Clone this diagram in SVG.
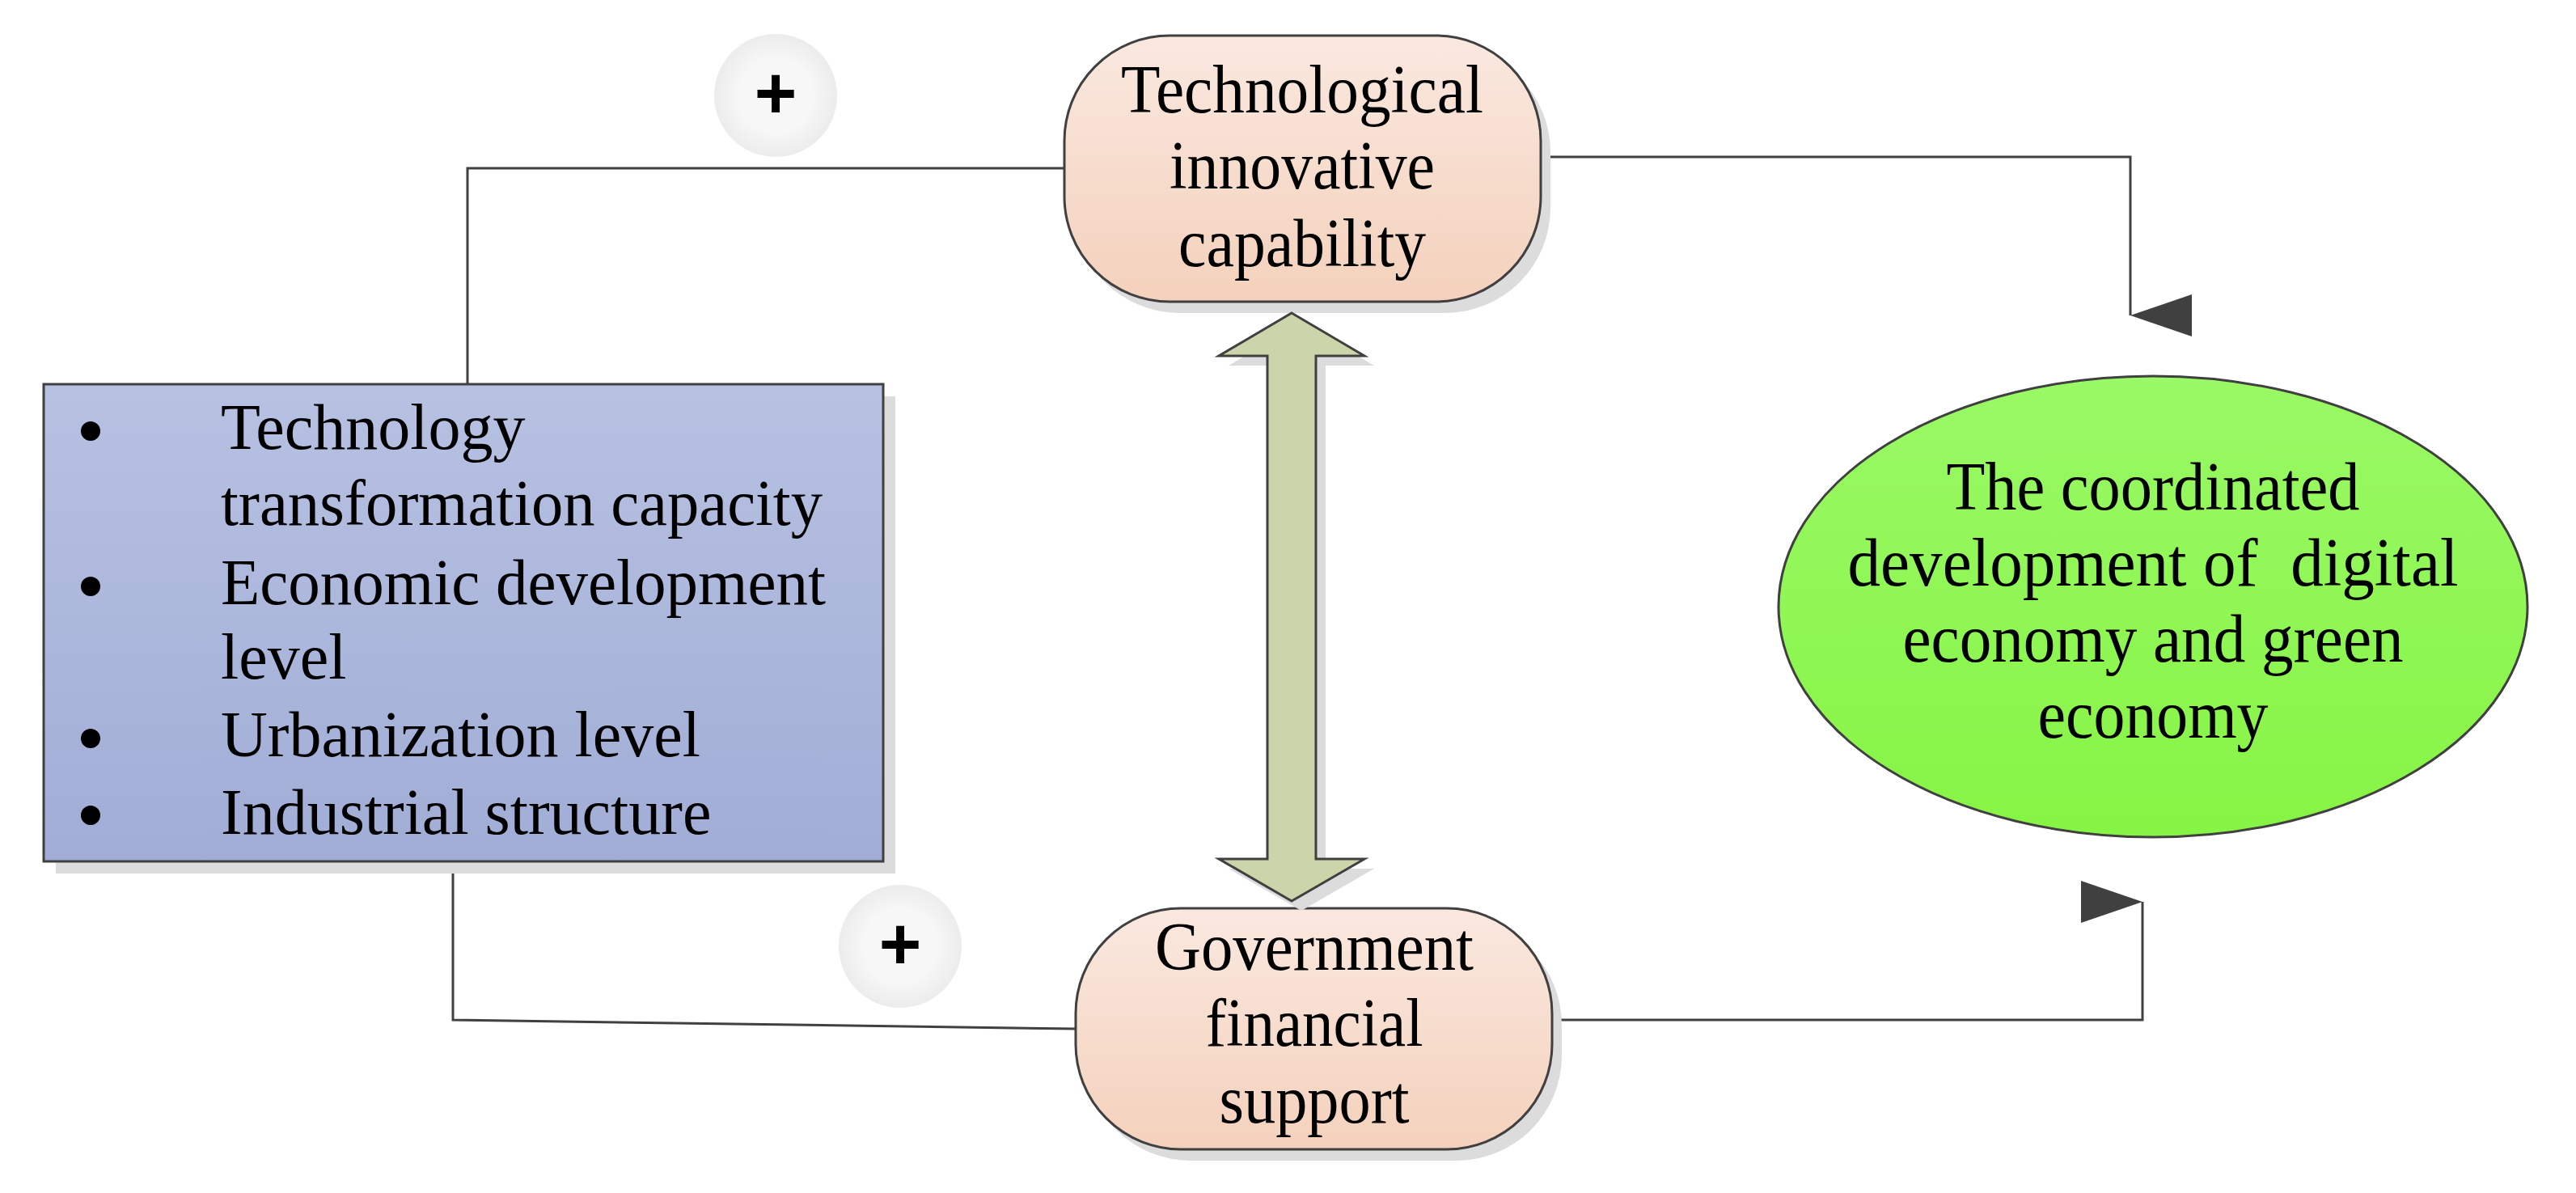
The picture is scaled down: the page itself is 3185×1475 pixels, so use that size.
<svg xmlns="http://www.w3.org/2000/svg" width="3185" height="1475" viewBox="0 0 3185 1475">
<defs>
<linearGradient id="gBox" x1="0" y1="0" x2="0" y2="1"><stop offset="0" stop-color="#b7c1e2"/><stop offset="1" stop-color="#a1add6"/></linearGradient>
<linearGradient id="gNode" x1="0" y1="0" x2="0" y2="1"><stop offset="0" stop-color="#fae8df"/><stop offset="1" stop-color="#f4d1bc"/></linearGradient>
<linearGradient id="gEll" x1="0" y1="0" x2="0" y2="1"><stop offset="0" stop-color="#9af966"/><stop offset="1" stop-color="#86f444"/></linearGradient>
<radialGradient id="gPlus"><stop offset="0.6" stop-color="#f7f7f7"/><stop offset="1" stop-color="#ececec"/></radialGradient>
<marker id="ah" markerWidth="52" markerHeight="76" refX="26" refY="76" orient="auto-start-reverse" markerUnits="userSpaceOnUse" viewBox="0 0 52 76"><path d="M0,0 L26,76 L52,0 Z" fill="#404040"/></marker>
</defs>
<style>
.t{font-family:"Liberation Serif","Times New Roman",serif;fill:#000}
.ln{fill:none;stroke:#404040;stroke-width:3}
.sh{fill:#dcdcdc}
.st{stroke:#404040;stroke-width:3}
</style>
<g id="connectors">
<polyline class="ln" points="578,475 578,208 1316,208"/>
<polyline class="ln" points="560,1065 560,1261 1329,1272"/>
<polyline class="ln" points="1905,194 2634,194 2634,390" marker-end="url(#ah)"/>
<polyline class="ln" points="1919,1261 2649,1261 2649,1115" marker-end="url(#ah)"/>
</g>
<g id="plus1"><circle cx="959" cy="118" r="76" fill="url(#gPlus)"/><text x="959" y="146" text-anchor="middle" font-family="Liberation Sans,Arial,sans-serif" font-size="90" font-weight="bold">+</text></g>
<g id="plus2"><circle cx="1113" cy="1170" r="76" fill="url(#gPlus)"/><text x="1113" y="1198" text-anchor="middle" font-family="Liberation Sans,Arial,sans-serif" font-size="90" font-weight="bold">+</text></g>
<g id="factors">
<rect class="sh" x="69" y="490" width="1038" height="590"/>
<rect x="54" y="475" width="1038" height="590" fill="url(#gBox)" class="st"/>
<g class="t" font-size="80">
<circle cx="112" cy="533" r="12"/><circle cx="112" cy="725" r="12"/><circle cx="112" cy="913" r="12"/><circle cx="112" cy="1008" r="12"/>
<text x="273" y="555">Technology</text>
<text x="273" y="649" textLength="744" lengthAdjust="spacingAndGlyphs">transformation capacity</text>
<text x="273" y="747" textLength="748" lengthAdjust="spacingAndGlyphs">Economic development</text>
<text x="273" y="839">level</text>
<text x="273" y="935">Urbanization level</text>
<text x="273" y="1031">Industrial structure</text>
</g>
</g>
<g id="tech">
<rect class="sh" x="1328" y="58" width="589" height="329" rx="130"/>
<rect x="1316" y="44" width="589" height="329" rx="130" fill="url(#gNode)" class="st"/>
<g class="t" font-size="84" text-anchor="middle">
<text x="1610" y="139" textLength="448" lengthAdjust="spacingAndGlyphs">Technological</text>
<text x="1610" y="233" textLength="328" lengthAdjust="spacingAndGlyphs">innovative</text>
<text x="1610" y="329" textLength="306" lengthAdjust="spacingAndGlyphs">capability</text>
</g>
</g>
<g id="gov">
<rect class="sh" x="1342" y="1137" width="589" height="298" rx="130"/>
<rect x="1330" y="1123" width="589" height="298" rx="130" fill="url(#gNode)" class="st"/>
<g class="t" font-size="84" text-anchor="middle">
<text x="1625" y="1199" textLength="394" lengthAdjust="spacingAndGlyphs">Government</text>
<text x="1625" y="1293" textLength="269" lengthAdjust="spacingAndGlyphs">financial</text>
<text x="1625" y="1388" textLength="235" lengthAdjust="spacingAndGlyphs">support</text>
</g>
</g>
<g id="arrow">
<path class="sh" d="M1609,399 L1699,452 L1639,452 L1639,1074 L1699,1074 L1609,1126 L1519,1074 L1579,1074 L1579,452 L1519,452 Z"/>
<path d="M1597,387 L1687,440 L1627,440 L1627,1062 L1687,1062 L1597,1114 L1507,1062 L1567,1062 L1567,440 L1507,440 Z" fill="#ccd5a9" class="st"/>
</g>
<g id="goal">
<ellipse cx="2662" cy="750" rx="463" ry="285" fill="url(#gEll)" class="st"/>
<g class="t" font-size="84" text-anchor="middle">
<text x="2662" y="630" textLength="511" lengthAdjust="spacingAndGlyphs">The coordinated</text>
<text x="2662" y="724" textLength="755" lengthAdjust="spacingAndGlyphs" xml:space="preserve">development of  digital</text>
<text x="2662" y="818" textLength="619" lengthAdjust="spacingAndGlyphs">economy and green</text>
<text x="2662" y="912" textLength="285" lengthAdjust="spacingAndGlyphs">economy</text>
</g>
</g>
</svg>
